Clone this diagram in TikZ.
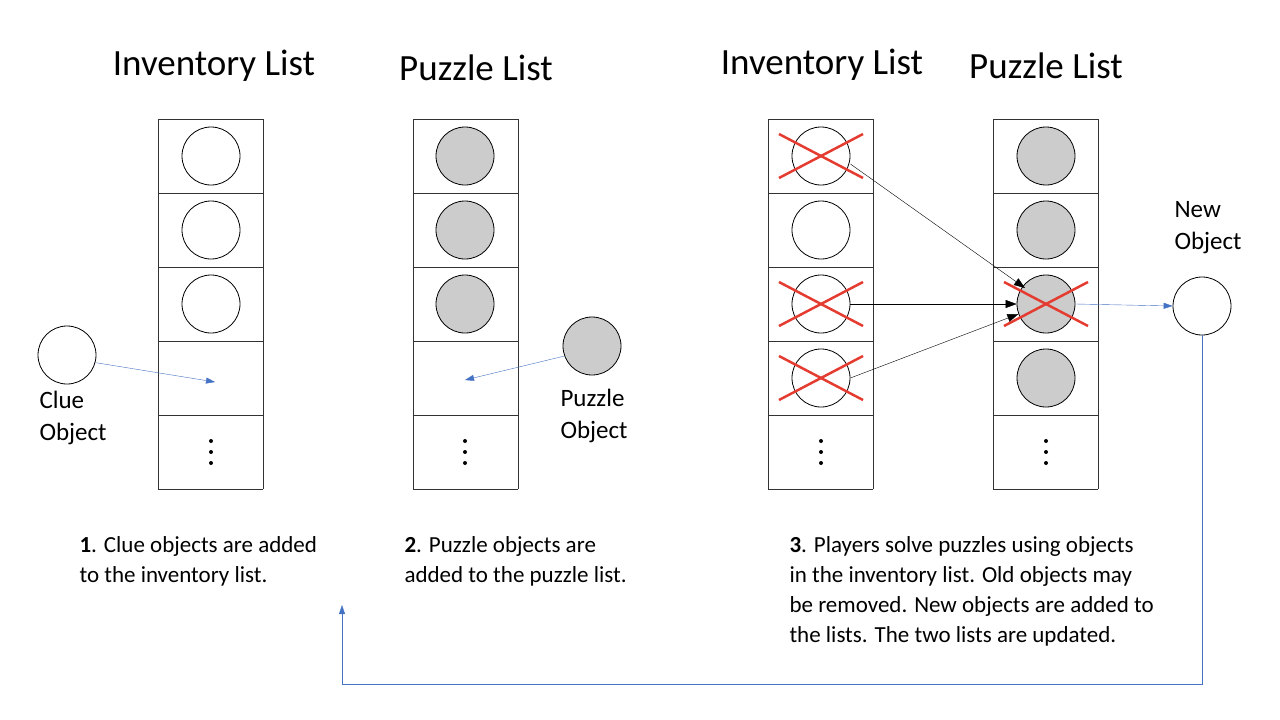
\documentclass[tikz,border=0pt]{standalone}
\usepackage{fontspec}
\setmainfont{Carlito}
\usetikzlibrary{arrows.meta}
\definecolor{ablue}{RGB}{68,114,196}
\definecolor{ared}{RGB}{228,60,48}
\begin{document}
\begin{tikzpicture}[x=1pt,y=-1pt,
  cell/.style={draw=black!80,line width=1pt},
  obj/.style={circle,draw,line width=0.8pt,minimum size=58pt,inner sep=0pt},
  pz/.style={obj,fill=black!20},
  title/.style={font=\fontsize{37}{44}\selectfont},
  lbl/.style={font=\fontsize{25}{32}\selectfont,align=left},
  desc/.style={font=\fontsize{23}{30}\selectfont,align=left,anchor=north west},
  dot/.style={circle,fill=black,inner sep=0pt,minimum size=4pt},
  bl/.style={draw=ablue,-{Triangle[length=9pt,width=6pt]}},
  bk/.style={draw=black,-{Triangle[length=11pt,width=8pt]}},
  xx/.style={draw=ared,line width=2.5pt}]
\useasboundingbox (0,0) rectangle (1280,720);
% grids
\foreach \xl/\xr in {158/263,413/518,768/873,993/1098}{
  \draw[cell] (\xl,119) -- (\xl,489) (\xr,119) -- (\xr,489);
  \foreach \y in {119,193,267,341,415,489} \draw[cell] (\xl,\y) -- (\xr,\y);
}
% ellipsis dots
\foreach \x in {211,465,821,1046}{
  \foreach \y in {441,452,463} \node[dot] at (\x,\y) {};
}
% titles
\node[title] (t1) at (214,66) {Inventory List};
\node[title] (t2) at (476,68) {Puzzle List};
\node[title] (t3) at (822,65) {Inventory List};
\node[title] (t4) at (1046,66) {Puzzle List};
% column 1
\node[obj] (a1) at (211,156) {};
\node[obj] (a2) at (211,230) {};
\node[obj] (a3) at (211,304) {};
\coordinate (a4) at (215,382);
% column 2
\node[pz] (b1) at (465,156) {};
\node[pz] (b2) at (465,230) {};
\node[pz] (b3) at (465,304) {};
\coordinate (b4) at (465,380);
% column 3
\node[obj] (c1) at (821,156) {};
\node[obj] (c2) at (821,230) {};
\node[obj] (c3) at (821,304) {};
\node[obj] (c4) at (821,378) {};
% column 4
\node[pz] (d1) at (1046,156) {};
\node[pz] (d2) at (1046,230) {};
\node[pz] (d3) at (1046,304) {};
\node[pz] (d4) at (1046,378) {};
% crosses
\foreach \n in {c1,c3,c4,d3}{
  \draw[xx] ([shift={(-42,-22)}]\n.center) -- ([shift={(42,22)}]\n.center);
  \draw[xx] ([shift={(-42,22)}]\n.center) -- ([shift={(42,-22)}]\n.center);
}
% side objects
\node[obj] (clue) at (67,355) {};
\node[lbl,anchor=north west] (cluel) at (36,388) {Clue\\Object};
\node[pz] (puz) at (592,346) {};
\node[lbl,anchor=north west] (puzl) at (557,386) {Puzzle\\Object};
\node[obj] (new) at (1202,306) {};
\node[lbl,anchor=north west] (newl) at (1171,198) {New\\Object};
% arrows
\draw[bl] (clue.-15) -- (a4);
\draw[bl] (puz.-160) -- (b4);
\draw[bk] (c1.east) ++(0,8) -- ([shift={(-21,-16)}]d3.center);
\draw[bk] (c3.east) -- (d3.west);
\draw[bk] (c4.east) -- (d3.-160);
\draw[bl] (d3.east) -- (new.west);
\coordinate (fb) at (342,605);
\draw[bl] (new.south) |- (342,684) -- (fb);
% descriptions
\node[desc] (e1) at (76,533) {\textbf{1}. Clue objects are added\\to the inventory list.};
\node[desc] (e2) at (401,533) {\textbf{2}. Puzzle objects are\\added to the puzzle list.};
\node[desc] (e3) at (786,533) {\textbf{3}. Players solve puzzles using objects\\in the inventory list. Old objects may\\be removed. New objects are added to\\the lists. The two lists are updated.};
\end{tikzpicture}
\end{document}
